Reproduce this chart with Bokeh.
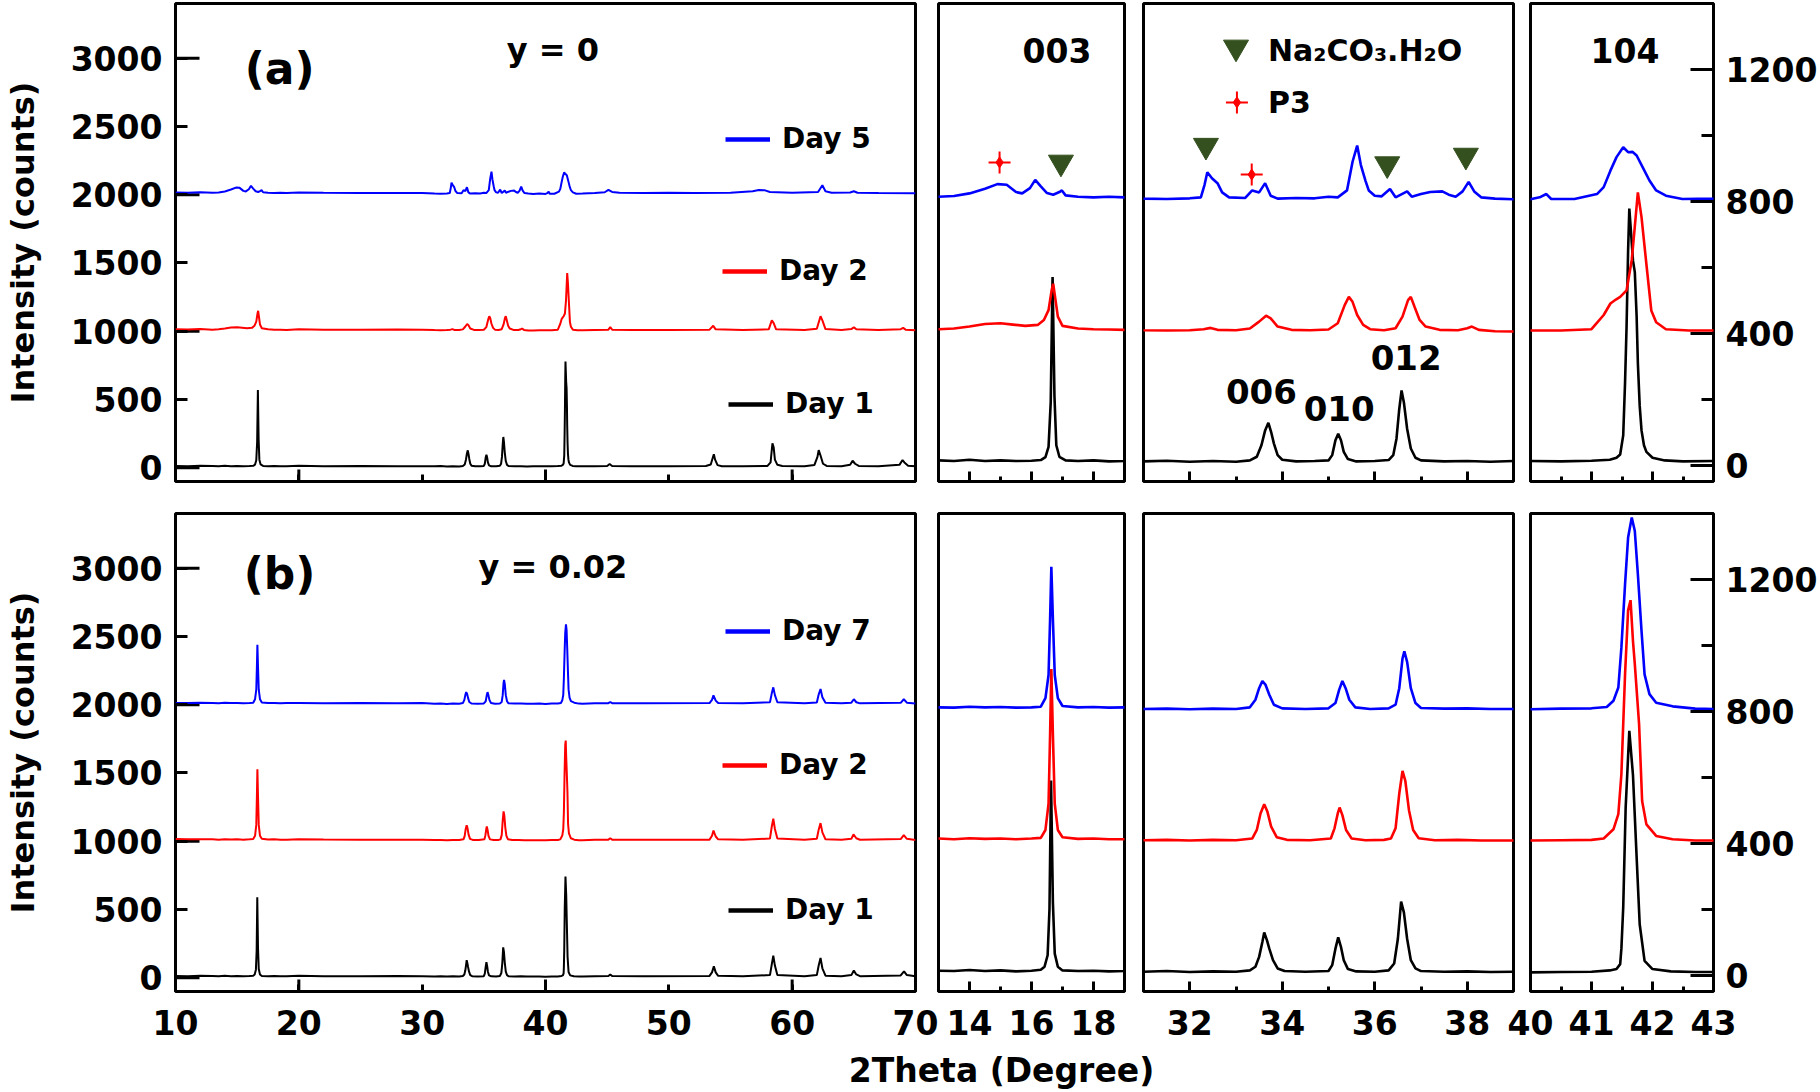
import math
from bokeh.plotting import figure
from bokeh.layouts import row, column
from bokeh.models import Range1d, SingleIntervalTicker, Label, Legend, LegendItem
from bokeh.embed import file_html
from bokeh.resources import INLINE

FONT = "DejaVu Sans"
BLUE, RED, BLACK, GREEN = "#0000ff", "#ff0000", "#000000", "#34501f"

# ---------------- data: (2theta, counts) ----------------
a_day1 = [(10,14),(11,12),(12,15),(13,14),(13.5,12),(14,16),(14.5,12),(15,14),(15.5,12),(16,13),(16.3,15),(16.45,24),(16.55,55),(16.62,190),(16.68,570),(16.74,210),(16.8,60),(16.9,25),(17.1,14),(17.5,12),(18,14),(18.5,11),(19,12),
          (20,16),(22,12),(25,13),(28,12),(30,12),(31,11),(31.5,13),(32,10),(32.5,12),(33,10),(33.3,14),(33.45,25),(33.55,60),(33.63,105),(33.7,128),(33.76,100),(33.82,65),(33.9,30),(34.0,16),(34.3,11),(34.7,12),(35.0,14),(35.08,30),(35.15,75),(35.21,95),(35.27,75),(35.33,40),(35.42,18),(35.6,11),(36.0,12),(36.3,15),(36.4,30),(36.47,80),(36.53,170),(36.58,226),(36.63,190),(36.7,110),(36.78,50),(36.88,22),(37.0,14),(37.5,11),(38,12),(38.5,10),(39,12),
          (39.5,11),(40,12),(40.5,11),(41,13),(41.3,16),(41.41,22),(41.47,32),(41.52,90),(41.55,250),(41.575,420),(41.6,650),(41.62,778),(41.65,700),(41.68,620),(41.71,585),(41.74,450),(41.76,310),(41.79,180),(41.82,105),(41.86,60),(41.9,40),(42.0,22),(42.2,14),(42.5,11),(43,12),
          (44,12),(45,14),(45.2,28),(45.4,14),(47,12),(50,12),(53,14),(53.4,25),(53.55,70),(53.65,100),(53.75,60),(53.95,20),(54.3,12),(56,12),(58,14),(58.25,40),(58.4,180),(58.5,150),(58.6,60),(58.8,22),(59.2,14),(61,12),(61.8,20),(62.05,80),(62.15,130),(62.3,90),(62.5,30),(62.8,14),(64,12),(64.7,22),(64.9,52),(65.1,30),(65.4,14),(67,12),(68.7,22),(68.95,57),(69.1,40),(69.4,16),(70,12)]

a_day2 = [(10,15),(11,13),(12,16),(13,12),(13.5,14),(14,20),(14.5,28),(15.0,30),(15.4,26),(15.8,22),(16.2,25),(16.4,40),(16.55,70),(16.65,130),(16.7,150),(16.76,110),(16.85,50),(17.0,22),(17.5,14),(18,12),(18.5,11),(19,10),
          (20,14),(22,12),(25,12),(28,13),(30,12),(31,9),(31.5,8),(32,9),(32.3,12),(32.45,16),(32.6,10),(33,9),(33.3,14),(33.5,35),(33.65,53),(33.75,45),(33.9,20),(34.2,10),(34.6,9),(35.0,11),(35.2,30),(35.35,85),(35.44,110),(35.52,95),(35.62,55),(35.75,25),(35.9,12),(36.2,9),(36.45,15),(36.6,50),(36.72,100),(36.78,110),(36.86,80),(36.97,40),(37.1,20),(37.4,10),(37.8,9),(38.0,15),(38.1,20),(38.25,10),(38.6,6),(39,5),
          (39.5,7),(40,8),(40.5,8),(41.0,12),(41.06,25),(41.2,55),(41.31,90),(41.4,102),(41.47,110),(41.575,130),(41.66,222),(41.71,323),(41.76,427),(41.82,352),(41.9,209),(41.98,69),(42.06,33),(42.22,12),(42.6,8),(43,8),
          (44,10),(45.1,12),(45.25,30),(45.4,12),(47,10),(50,9),(53.3,12),(53.6,40),(53.8,14),(56,10),(58.1,14),(58.35,80),(58.5,60),(58.7,14),(61,10),(62.0,18),(62.3,110),(62.45,80),(62.7,16),(64,10),(64.8,16),(65.0,30),(65.2,14),(67,10),(68.8,15),(69.0,25),(69.2,12),(70,8)]

a_day5 = [(10,16),(11,14),(12,18),(13,14),(13.5,16),(14,24),(14.5,38),(14.9,52),(15.2,50),(15.5,28),(15.7,24),(15.95,40),(16.12,65),(16.3,45),(16.5,25),(16.7,20),(16.9,28),(16.98,33),(17.1,18),(17.5,14),(18,12),(18.5,14),(19,12),
          (20,16),(22,14),(25,12),(28,13),(30,12),(31,8),(31.5,7),(32,9),(32.24,12),(32.32,50),(32.38,88),(32.48,70),(32.6,55),(32.7,27),(32.85,12),(33.2,10),(33.35,33),(33.5,27),(33.63,55),(33.75,17),(33.9,8),(34.3,10),(34.7,9),(35.0,14),(35.2,12),(35.4,33),(35.52,120),(35.62,169),(35.7,110),(35.8,62),(35.87,33),(36.0,17),(36.15,15),(36.33,37),(36.45,12),(36.7,30),(36.8,14),(37.0,22),(37.2,28),(37.46,30),(37.6,20),(37.75,14),(37.9,30),(38.03,59),(38.15,30),(38.3,12),(38.6,8),(39,6),
          (39.5,8),(40,6),(40.15,12),(40.26,22),(40.34,7),(40.72,7),(41.09,22),(41.2,43),(41.31,93),(41.41,134),(41.52,164),(41.6,149),(41.67,150),(41.74,139),(41.84,103),(41.95,63),(42.06,33),(42.22,17),(42.49,7),(43,8),
          (44,12),(44.8,18),(45.1,35),(45.4,20),(46,14),(48,12),(50,14),(52,12),(55,14),(56.8,25),(57.3,35),(57.8,32),(58.2,20),(60,14),(62.1,20),(62.45,69),(62.7,25),(63.2,14),(64.7,16),(65.0,25),(65.3,14),(67,12),(70,10)]

b_day1 = [(10,14),(11,12),(12,15),(13,13),(13.5,12),(14,15),(14.5,12),(15,14),(15.5,11),(16,13),(16.3,16),(16.42,25),(16.52,60),(16.58,200),(16.63,590),(16.69,220),(16.75,65),(16.85,25),(17.0,14),(17.5,12),(18,13),(18.5,11),(19,12),
          (20,15),(22,12),(25,12),(28,13),(30,11),(31,10),(31.5,12),(32,9),(32.5,11),(33,10),(33.3,14),(33.42,25),(33.5,55),(33.57,100),(33.61,129),(33.67,105),(33.72,80),(33.8,45),(33.9,20),(34.05,12),(34.5,10),(35.0,12),(35.08,30),(35.15,80),(35.21,114),(35.27,85),(35.33,45),(35.42,18),(35.6,11),(36.0,10),(36.3,14),(36.42,35),(36.5,110),(36.57,223),(36.63,190),(36.7,110),(36.78,45),(36.88,20),(37.0,12),(37.5,10),(38,11),(38.5,9),(39,10),
          (39.5,9),(40,8),(40.5,9),(41,10),(41.3,14),(41.41,18),(41.47,33),(41.49,80),(41.52,205),(41.56,508),(41.62,741),(41.68,606),(41.74,357),(41.79,154),(41.87,43),(42.0,18),(42.3,11),(42.7,9),(43,9),
          (44,12),(45.1,14),(45.25,25),(45.4,13),(48,12),(53.3,14),(53.5,40),(53.65,84),(53.8,40),(54.0,15),(56,12),(58.2,20),(58.35,100),(58.47,163),(58.6,90),(58.8,20),(61,12),(62.0,20),(62.15,90),(62.3,145),(62.45,70),(62.7,16),(64,12),(64.8,20),(65.0,53),(65.2,25),(65.5,12),(68.8,18),(69.07,48),(69.3,20),(70,12)]

b_day2 = [(10,16),(11,14),(12,15),(13,14),(13.5,12),(14,15),(14.5,13),(15,14),(15.5,12),(16,14),(16.3,16),(16.45,40),(16.55,120),(16.6,330),(16.64,528),(16.69,330),(16.75,120),(16.85,40),(17.0,18),(17.5,13),(18,14),(18.5,12),(19,12),
          (20,15),(22,13),(25,12),(28,12),(30,12),(31,9),(31.5,10),(32,8),(32.5,10),(33,9),(33.35,14),(33.45,40),(33.53,90),(33.61,118),(33.68,95),(33.76,50),(33.88,18),(34.1,10),(34.6,9),(35.05,14),(35.13,45),(35.2,90),(35.24,108),(35.3,85),(35.38,40),(35.5,14),(35.8,9),(36.2,10),(36.35,14),(36.45,45),(36.53,150),(36.6,219),(36.66,190),(36.74,100),(36.83,40),(36.95,15),(37.3,9),(37.8,10),(38.3,8),(39,8),
          (39.5,7),(40,8),(40.5,9),(41.0,10),(41.2,14),(41.36,42),(41.44,88),(41.49,209),(41.55,512),(41.6,706),(41.64,737),(41.68,613),(41.71,543),(41.78,361),(41.83,128),(41.9,57),(42.06,22),(42.33,12),(42.7,8),(43,8),
          (44,12),(45.1,12),(45.25,22),(45.4,12),(48,11),(53.3,12),(53.5,40),(53.62,78),(53.8,35),(54.0,14),(56,11),(58.2,20),(58.35,110),(58.47,166),(58.6,90),(58.8,20),(61,11),(62.0,18),(62.15,85),(62.3,133),(62.45,65),(62.7,15),(64,11),(64.8,18),(64.97,50),(65.2,22),(65.5,11),(68.8,16),(69.05,45),(69.3,18),(70,10)]

b_day7 = [(10,13),(11,12),(12,14),(13,12),(13.5,11),(14,14),(14.5,12),(15,13),(15.5,11),(16,12),(16.3,14),(16.45,40),(16.55,110),(16.6,280),(16.64,438),(16.69,280),(16.75,110),(16.85,40),(17.0,16),(17.5,12),(18,13),(18.5,11),(19,12),
          (20,13),(22,11),(25,12),(28,11),(30,12),(31,7),(31.5,8),(32,6),(32.5,8),(33,7),(33.3,12),(33.42,35),(33.5,70),(33.57,92),(33.64,80),(33.72,50),(33.82,20),(34.0,9),(34.5,7),(35.0,9),(35.15,25),(35.23,65),(35.3,92),(35.37,70),(35.45,35),(35.58,12),(35.9,7),(36.3,9),(36.45,20),(36.53,70),(36.6,160),(36.64,182),(36.7,150),(36.78,70),(36.88,25),(37.0,10),(37.5,8),(38,9),(38.5,7),(39,7),
          (39.5,8),(40,6),(40.5,8),(41.0,9),(41.25,13),(41.36,32),(41.44,72),(41.49,193),(41.55,385),(41.6,527),(41.66,588),(41.71,547),(41.76,416),(41.82,244),(41.87,112),(41.95,52),(42.06,26),(42.33,15),(42.7,8),(43,7),
          (44,11),(45.1,11),(45.25,20),(45.4,11),(48,10),(53.3,12),(53.5,35),(53.62,69),(53.8,30),(54.0,12),(56,10),(58.2,18),(58.35,85),(58.47,127),(58.6,70),(58.8,18),(61,10),(62.0,16),(62.15,75),(62.3,115),(62.45,55),(62.7,14),(64,10),(64.8,15),(65.0,40),(65.2,18),(65.5,10),(68.8,14),(69.05,40),(69.3,15),(70,9)]

series_labels_a = ["Day 1", "Day 2", "Day 5"]
series_labels_b = ["Day 1", "Day 2", "Day 7"]
series_colors = [BLACK, RED, BLUE]
main_offsets = [0, 1000, 2000]
zoom_offsets = [0, 400, 800]

main_yticks_long = [0, 1000, 2000, 3000]
main_xticks_long = [20, 40, 60]

# phase markers (2theta, zoom-panel counts)
na2co3_003 = [(16.95, 918)]
na2co3_mid = [(32.35, 969), (36.27, 913), (37.97, 939)]
p3_003 = [(14.97, 918)]
p3_mid = [(33.34, 881)]

# ---------------- layout ----------------
MAIN_XR, MAIN_YR = (10, 70), (-100, 3400)
ZOOM_YR = (-50, 1400)
ZOOM_XR = [(13, 19), (31, 39), (40, 43)]
WIDTHS = [945, 206, 388, 317]
BORDERS_LR = [(175, 30), (11, 9), (10, 8), (27, 103)]
MARGIN_L = [0, -18, 0, -18]
ROW_H = [500, 551]
ROW_TB = [(3, 19), (13, 60)]


def style_axis(ax, ticker, tick_in, minor_in, labels, standoff, size="33px"):
    ax.ticker = ticker
    ax.axis_line_color = None
    ax.major_tick_in = tick_in
    ax.major_tick_out = 0
    ax.minor_tick_in = minor_in
    ax.minor_tick_out = 0
    ax.major_tick_line_width = 3
    ax.minor_tick_line_width = 3
    if minor_in == 0:
        ax.minor_tick_line_color = None
    ax.major_label_text_font = FONT
    ax.major_label_text_font_style = "bold"
    if labels:
        ax.major_label_text_color = "black"
        ax.major_label_text_font_size = size
        ax.major_label_standoff = standoff
    else:
        ax.major_label_text_color = None
        ax.major_label_text_font_size = "1px"
        ax.major_label_standoff = 0


def make_fig(col, ri, xr, yr, y_loc):
    l, r = BORDERS_LR[col]
    t, b = ROW_TB[ri]
    p = figure(width=WIDTHS[col], height=ROW_H[ri], x_range=Range1d(*xr), y_range=Range1d(*yr),
               output_backend="svg", toolbar_location=None, y_axis_location=y_loc,
               min_border_left=l, min_border_right=r, min_border_top=t, min_border_bottom=b,
               margin=(0, 0, 0, MARGIN_L[col]))
    p.grid.visible = False
    p.outline_line_color = "black"
    p.outline_line_width = 3
    p.background_fill_color = "white"
    p.border_fill_color = None
    return p


def label(p, x, y, text, size, align="center"):
    p.add_layout(Label(x=x, y=y, text=text, text_font=FONT, text_font_style="bold",
                       text_font_size=size, text_align=align, text_baseline="middle",
                       text_color="black"))


def star(p, pts):
    xs = [q[0] for q in pts]
    ys = [q[1] for q in pts]
    p.scatter(xs, ys, marker="cross", size=22, line_color=RED, line_width=2)
    p.scatter(xs, ys, marker="diamond", size=11, fill_color=RED, line_color=RED)


def tri(p, pts):
    p.scatter([q[0] for q in pts], [q[1] for q in pts], marker="inverted_triangle", size=25,
              fill_color=GREEN, line_color=GREEN)


rows_cfg = [
    dict(series=[a_day1, a_day2, a_day5], labels=series_labels_a, tag="(a)", comp="y = 0",
         leg_pos=[(553, 61), (547, 194), (550, 326)]),
    dict(series=[b_day1, b_day2, b_day7], labels=series_labels_b, tag="(b)", comp="y = 0.02",
         leg_pos=[(553, 65), (547, 210), (550, 344)]),
]

row_layouts = []
for ri, cfg in enumerate(rows_cfg):
    last = ri == 1
    figs = []
    # ---- main panel ----
    p = make_fig(0, ri, MAIN_XR, MAIN_YR, "left")
    style_axis(p.xaxis[0], SingleIntervalTicker(interval=10, num_minor_ticks=0), 7, 0, last, 18)
    style_axis(p.yaxis[0], SingleIntervalTicker(interval=500, num_minor_ticks=0), 12, 0, True, 13)
    p.yaxis[0].axis_label = "Intensity (counts)"
    p.yaxis[0].axis_label_text_font = FONT
    p.yaxis[0].axis_label_text_font_style = "bold"
    p.yaxis[0].axis_label_text_font_size = "32px"
    p.yaxis[0].axis_label_text_color = "black"
    p.yaxis[0].axis_label_standoff = 26
    p.ray(x=[MAIN_XR[0]] * len(main_yticks_long), y=main_yticks_long, length=24, length_units="screen",
          angle=0, line_color="black", line_width=3)
    p.ray(x=main_xticks_long, y=[MAIN_YR[0]] * len(main_xticks_long), length=12, length_units="screen",
          angle=math.pi / 2, line_color="black", line_width=3)
    for k, (data, color) in enumerate(zip(cfg["series"], series_colors)):
        xs = [q[0] for q in data]
        ys = [q[1] + main_offsets[k] for q in data]
        p.line(xs, ys, line_color=color, line_width=2)
        # legend-only renderer (one empty point) so the key line can be drawn thicker
        leg_r = p.line(x=[float("nan")], y=[float("nan")], line_color=color, line_width=4.5)
        lg = Legend(items=[LegendItem(label=cfg["labels"][k], renderers=[leg_r])],
                    location=cfg["leg_pos"][k], glyph_width=45, glyph_height=30, label_height=30,
                    label_standoff=12, padding=0, margin=0, spacing=0,
                    label_text_font=FONT, label_text_font_style="bold", label_text_font_size="28px",
                    label_text_color="black", border_line_alpha=0, background_fill_alpha=0)
        p.add_layout(lg)
    label(p, 18.44, 2924 if ri == 0 else 2962, cfg["tag"], "44px")
    label(p, 40.6, 3056 if ri == 0 else 3006, cfg["comp"], "32px")
    figs.append(p)

    # ---- zoom panels ----
    for zi, xr in enumerate(ZOOM_XR):
        y_loc = "right" if zi == 2 else None
        p = make_fig(zi + 1, ri, xr, ZOOM_YR, y_loc)
        interval = 1 if zi == 2 else 2
        style_axis(p.xaxis[0], SingleIntervalTicker(interval=interval, num_minor_ticks=2), 10, 5, last, 18)
        if zi == 2:
            style_axis(p.yaxis[0], SingleIntervalTicker(interval=400, num_minor_ticks=2), 23, 12, True, 12)
        for k, (data, color) in enumerate(zip(cfg["series"], series_colors)):
            xs = [q[0] for q in data]
            ys = [q[1] + zoom_offsets[k] for q in data]
            p.line(xs, ys, line_color=color, line_width=2.6)
        if ri == 0:
            if zi == 0:
                tri(p, na2co3_003)
                star(p, p3_003)
                label(p, 16.82, 1257, "003", "33px")
            elif zi == 1:
                tri(p, na2co3_mid)
                star(p, p3_mid)
                tri(p, [(33.0, 1267)])
                star(p, [(33.02, 1100)])
                label(p, 33.69, 1257, "Na\u2082CO\u2083.H\u2082O", "30px", "left")
                label(p, 33.69, 1100, "P3", "30px", "left")
                label(p, 33.55, 223, "006", "34px")
                label(p, 35.23, 171, "010", "34px")
                label(p, 36.68, 326, "012", "34px")
            else:
                label(p, 41.55, 1257, "104", "33px")
        figs.append(p)
    row_layouts.append(row(*figs, spacing=0))

# ---- shared x-axis title ----
t = figure(width=1820, height=41, x_range=Range1d(0, 1820), y_range=Range1d(0, 41),
           output_backend="svg", toolbar_location=None, min_border=0)
t.axis.visible = False
t.grid.visible = False
t.outline_line_color = None
t.add_layout(Label(x=1001, y=22, text="2Theta (Degree)", text_font=FONT, text_font_style="bold",
                   text_font_size="33px", text_align="center", text_baseline="middle",
                   text_color="black"))

layout = column(row_layouts[0], row_layouts[1], t, spacing=0)
open("out.html", "w").write(file_html(layout, INLINE))
